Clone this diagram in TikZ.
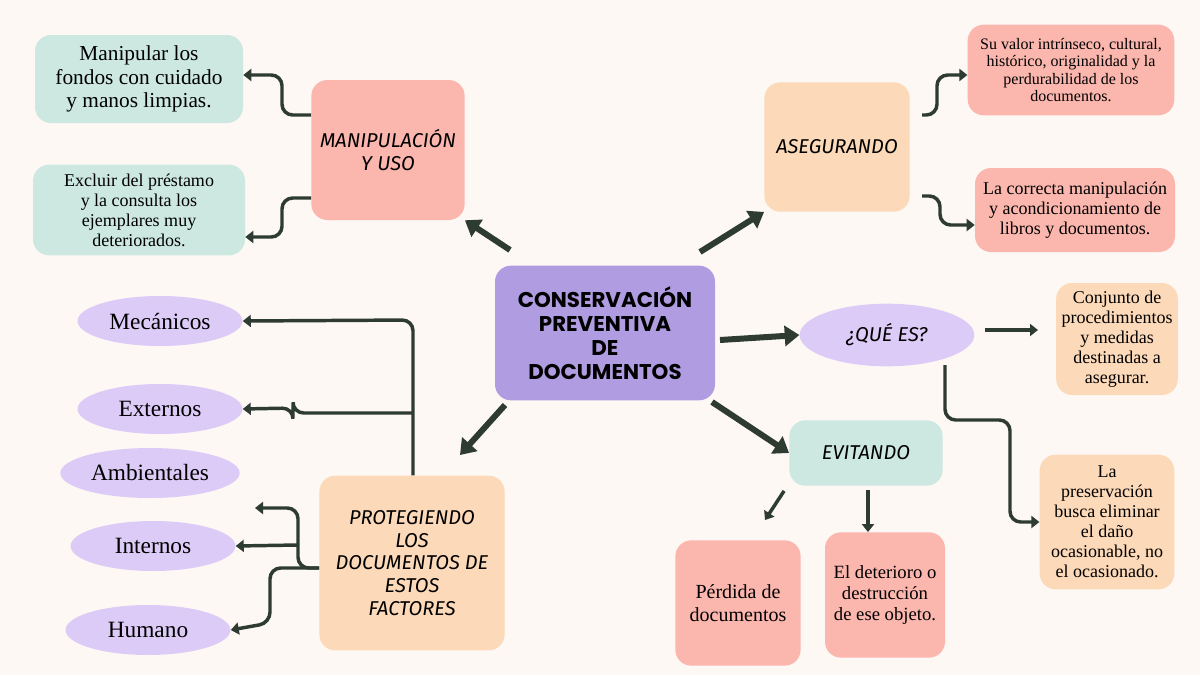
\documentclass[tikz,border=0pt]{standalone}
\usepackage{fontspec}
\setmainfont{Liberation Serif}
\newfontfamily\hand{Fira Sans}
\newfontfamily\boldhand{Poppins}
\usetikzlibrary{arrows.meta,shapes.geometric}
\definecolor{bg}{HTML}{FDF8F4}
\definecolor{teal}{HTML}{CDE8E0}
\definecolor{pinkb}{HTML}{FBB6AE}
\definecolor{peach}{HTML}{FCD9B8}
\definecolor{lav}{HTML}{DCCBF7}
\definecolor{cen}{HTML}{B09CE0}
\definecolor{dk}{HTML}{2E3B33}
\tikzset{
 box/.style={rounded corners=12pt,inner sep=4pt,align=center,text=black,font=\fontsize{13.5}{15}\selectfont},
 tag/.style={box,font=\hand\itshape\fontsize{15}{17}\selectfont},
 ell/.style={ellipse,fill=lav,minimum width=165pt*0.75,minimum height=50pt*0.75,font=\fontsize{17.5}{19}\selectfont},
 big/.style={draw=dk,line width=4.5pt,-{Triangle[length=11pt,width=15pt]}},
 thin/.style={draw=dk,line width=2.6pt,rounded corners=8pt,-{Triangle[length=6pt,width=9pt]}},
}
\begin{document}
\begin{tikzpicture}[x=0.75pt,y=-0.75pt]
\fill[bg] (0,0) rectangle (1200,675);
\useasboundingbox (0,0) rectangle (1200,675);
% boxes
\node[box,fill=cen,minimum width=165pt,minimum height=101pt,font=\boldhand\bfseries\fontsize{16}{18}\selectfont] (c) at (605,333) {CONSERVACIÓN\\PREVENTIVA\\DE\\DOCUMENTOS};
\node[tag,fill=pinkb,minimum width=115pt,minimum height=105pt] (man) at (388,150) {MANIPULACIÓN\\Y USO};
\node[box,fill=teal,minimum width=156pt,minimum height=66pt,font=\fontsize{16}{17.5}\selectfont] (t1) at (139,79) {Manipular los\\fondos con cuidado\\y manos limpias.};
\node[box,fill=teal,minimum width=159pt,minimum height=68pt] (t2) at (139,210) {Excluir del préstamo\\y la consulta los\\ejemplares muy\\deteriorados.};
\node[tag,fill=peach,minimum width=109pt,minimum height=97pt] (as) at (837,147) {ASEGURANDO};
\node[box,fill=pinkb,minimum width=155pt,minimum height=68pt,font=\fontsize{12}{13}\selectfont] (p1) at (1071,70) {Su valor intrínseco, cultural,\\histórico, originalidad y la\\perdurabilidad de los\\documentos.};
\node[box,fill=pinkb,minimum width=150pt,minimum height=63pt] (p2) at (1075,210) {La correcta manipulación\\y acondicionamiento de\\libros y documentos.};
\node[ellipse,fill=lav,minimum width=131pt,minimum height=47pt,font=\hand\itshape\fontsize{15}{17}\selectfont] (q) at (887,335) {¿QUÉ ES?};
\node[box,fill=peach,minimum width=88pt,minimum height=84pt] (cj) at (1117,339) {Conjunto de\\procedimientos\\y medidas\\destinadas a\\asegurar.};
\node[tag,fill=teal,minimum width=115pt,minimum height=49pt] (ev) at (866,453) {EVITANDO};
\node[box,fill=peach,minimum width=101pt,minimum height=101pt] (pr) at (1107,522) {La\\preservación\\busca eliminar\\el daño\\ocasionable, no\\el ocasionado.};
\node[box,fill=pinkb,minimum width=94pt,minimum height=94pt,font=\fontsize{15}{17}\selectfont] (pe) at (738,603) {Pérdida de\\documentos};
\node[box,fill=pinkb,minimum width=90pt,minimum height=94pt,font=\fontsize{14}{16}\selectfont] (de) at (885,595) {El deterioro o\\destrucción\\de ese objeto.};
\node[tag,fill=peach,minimum width=139pt,minimum height=131pt] (pt) at (412,563) {PROTEGIENDO\\LOS\\DOCUMENTOS DE\\ESTOS\\FACTORES};
\node[ell] (e1) at (160,321) {Mecánicos};
\node[ell] (e2) at (160,409) {Externos};
\node[ell] (e3) at (150,473) {Ambientales};
\node[ell] (e4) at (153,546) {Internos};
\node[ell] (e5) at (148,630) {Humano};
% big arrows
\coordinate (a1) at (510,250); \coordinate (a2) at (700,252); \coordinate (a3) at (720,340);
\coordinate (a4) at (712,402); \coordinate (a5) at (505,405);
\coordinate (pa) at (765,520); \coordinate (qa) at (1038,330);
\draw[big] (a1) -- (man.south east);
\draw[big] (a2) -- (as.south west);
\draw[big] (a3) -- (q.west);
\draw[big] (a4) -- (ev.west);
\draw[big] (a5) -- (460,455);
% thin connectors
\draw[thin] (man.west |- 0,115) -- (282,115) -- (282,75) -- (t1.east |- 0,75);
\draw[thin] (man.west |- 0,198) -- (282,198) -- (282,237) -- (t2.east |- 0,237);
\draw[thin] (922,115) -- (937,115) -- (937,75) -- (p1.west |- 0,75);
\draw[thin] (922,196) -- (940,196) -- (940,225) -- (p2.west |- 0,225);
\draw[thin] (q.east) ++(10,-5) -- (qa);
\draw[thin] (945,365) -- (945,420) -- (1010,420) -- (1010,522) -- (pr.west |- 0,522);
\draw[thin] (ev.south west) ++(-5,5) -- (pa);
\draw[thin] (868,490) -- (de.north west -| 868,0);
\draw[thin] (pt.north west -| 413,0) -- (413,320) -- (e1.east);
\draw[thin] (413,413) -- (293,413) -- (293,408) -- (e2.east);
\draw[thin] (pt.west |- 0,568) -- (298,568) -- (298,508) -- (255,508);
\draw[thin] (298,545) -- (e4.east);
\draw[thin] (pt.west |- 0,568) -- (270,568) -- (270,623) -- (e5.east);
\end{tikzpicture}
\end{document}
